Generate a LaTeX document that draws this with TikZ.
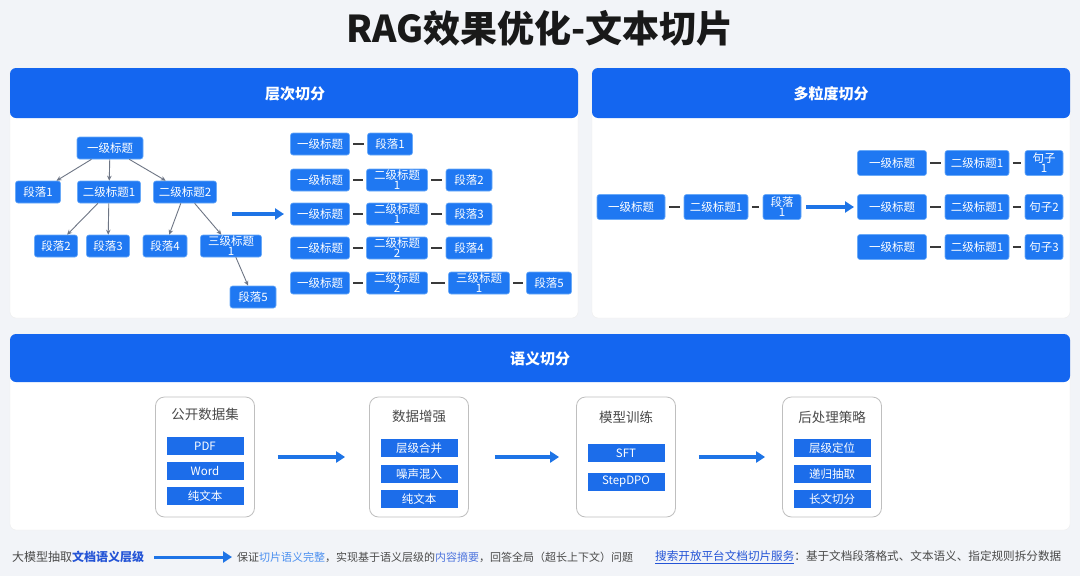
\documentclass[tikz,border=0pt]{standalone}
\usepackage{fontspec}
\setmainfont{Noto Sans CJK SC}
\usetikzlibrary{arrows.meta}

\definecolor{pagebg}{HTML}{F2F4F8}
\definecolor{headblue}{HTML}{1466F0}
\definecolor{nodeblue}{HTML}{1F78F2}
\definecolor{nodeedge}{HTML}{6AAAF8}
\definecolor{itemblue}{HTML}{1C6DEA}
\definecolor{linkgray}{HTML}{3A3A3A}
\definecolor{treegray}{HTML}{6E7685}
\definecolor{arrowblue}{HTML}{1E74E6}
\definecolor{txtgray}{HTML}{4A4A4A}
\definecolor{lightblue}{HTML}{4A8FF0}
\definecolor{deepblue}{HTML}{2454D6}

\tikzset{
  panel/.style={fill=white, draw=black!7, rounded corners=6pt},
  header/.style={fill=headblue, rounded corners=6pt},
  headtext/.style={text=white, font=\fontsize{15}{16}\selectfont\bfseries},
  chunk/.style={draw=nodeedge, fill=nodeblue, line width=0.6pt, rounded corners=2.5pt,
    text=white, minimum height=22pt, inner sep=1pt, align=center,
    font=\fontsize{11.5}{10}\selectfont},
  treearrow/.style={draw=treegray, line width=0.9pt, -{Stealth[length=5pt,width=4.5pt]}},
  joint/.style={draw=linkgray, line width=1.6pt, shorten >=3.5pt, shorten <=3.5pt},
  bigarrow/.style={draw=arrowblue, line width=3.5pt, -{Triangle[length=9pt,width=11pt]}},
  stage/.style={draw=black!25, fill=white, rounded corners=9pt, line width=0.8pt,
    minimum width=99pt, minimum height=120pt, inner sep=0pt},
  stagetitle/.style={text=txtgray, font=\fontsize{13.5}{14}\selectfont},
  item/.style={fill=itemblue, text=white, inner sep=0pt, minimum width=77pt,
    minimum height=18pt, font=\fontsize{11.5}{12}\selectfont},
}

\begin{document}
\begin{tikzpicture}[x=1pt, y=-1pt]

  % page and title
  \fill[pagebg] (0,0) rectangle (1080,576);
  \useasboundingbox (0,0) rectangle (1080,576);
  \node[text=black!90, font=\fontsize{37}{40}\selectfont\bfseries] (title) at (540,28) {RAG效果优化-文本切片};

  % the three panels
  \draw[panel] (10,68) rectangle (578,318);
  \fill[header] (10,68) rectangle (578,118);
  \node[headtext] (h1) at (295,94) {层次切分};

  \draw[panel] (592,68) rectangle (1070,318);
  \fill[header] (592,68) rectangle (1070,118);
  \node[headtext] (h2) at (831,94) {多粒度切分};

  \draw[panel] (10,334) rectangle (1070,530);
  \fill[header] (10,334) rectangle (1070,382);
  \node[headtext] (h3) at (540,359) {语义切分};

  % hierarchy: the tree
  \node[chunk, minimum width=66pt] (t0) at (110,148) {一级标题};
  \node[chunk, minimum width=45pt] (p1) at (38,192) {段落1};
  \node[chunk, minimum width=63pt] (t1) at (109,192) {二级标题1};
  \node[chunk, minimum width=63pt] (t2) at (185,192) {二级标题2};
  \node[chunk, minimum width=43pt] (p2) at (56,246) {段落2};
  \node[chunk, minimum width=43pt] (p3) at (108,246) {段落3};
  \node[chunk, minimum width=44pt] (p4) at (165,246) {段落4};
  \node[chunk, minimum width=61pt] (t3) at (231,246) {三级标题\\1};
  \node[chunk, minimum width=46pt] (p5) at (253,297) {段落5};

  \draw[treearrow] (t0) -- (p1);
  \draw[treearrow] (t0) -- (t1);
  \draw[treearrow] (t0) -- (t2);
  \draw[treearrow] (t1) -- (p2);
  \draw[treearrow] (t1) -- (p3);
  \draw[treearrow] (t2) -- (p4);
  \draw[treearrow] (t2) -- (t3);
  \draw[treearrow] (t3) -- (p5);

  \coordinate (f1s) at (232,214);
  \coordinate (f1e) at (284,214);
  \draw[bigarrow] (f1s) -- (f1e);

  % hierarchy: the chunks as paths
  \node[chunk, minimum width=59pt] (a1) at (320,144) {一级标题};
  \node[chunk, minimum width=45pt] (b1) at (390,144) {段落1};

  \node[chunk, minimum width=59pt] (a2) at (320,180) {一级标题};
  \node[chunk, minimum width=61pt] (c2) at (397,180) {二级标题\\1};
  \node[chunk, minimum width=46pt] (d2) at (469,180) {段落2};

  \node[chunk, minimum width=59pt] (a3) at (320,214) {一级标题};
  \node[chunk, minimum width=61pt] (c3) at (397,214) {二级标题\\1};
  \node[chunk, minimum width=46pt] (d3) at (469,214) {段落3};

  \node[chunk, minimum width=59pt] (a4) at (320,248) {一级标题};
  \node[chunk, minimum width=61pt] (c4) at (397,248) {二级标题\\2};
  \node[chunk, minimum width=46pt] (d4) at (469,248) {段落4};

  \node[chunk, minimum width=59pt] (a5) at (320,283) {一级标题};
  \node[chunk, minimum width=61pt] (c5) at (397,283) {二级标题\\2};
  \node[chunk, minimum width=61pt] (e5) at (479,283) {三级标题\\1};
  \node[chunk, minimum width=45pt] (d5) at (549,283) {段落5};

  \draw[joint] (a1) -- (b1);
  \draw[joint] (a2) -- (c2);
  \draw[joint] (c2) -- (d2);
  \draw[joint] (a3) -- (c3);
  \draw[joint] (c3) -- (d3);
  \draw[joint] (a4) -- (c4);
  \draw[joint] (c4) -- (d4);
  \draw[joint] (a5) -- (c5);
  \draw[joint] (c5) -- (e5);
  \draw[joint] (e5) -- (d5);

  % multi-granularity
  \node[chunk, minimum width=68pt, minimum height=25pt] (m0) at (631,207) {一级标题};
  \node[chunk, minimum width=64pt, minimum height=25pt] (m1) at (716,207) {二级标题1};
  \node[chunk, minimum width=38pt, minimum height=25pt] (m2) at (782,207) {段落\\1};
  \draw[joint] (m0) -- (m1);
  \draw[joint] (m1) -- (m2);

  \coordinate (f2s) at (806,207);
  \coordinate (f2e) at (854,207);
  \draw[bigarrow] (f2s) -- (f2e);

  \node[chunk, minimum width=69pt, minimum height=25pt] (n1a) at (892,163) {一级标题};
  \node[chunk, minimum width=64pt, minimum height=25pt] (n1b) at (977,163) {二级标题1};
  \node[chunk, minimum width=38pt, minimum height=25pt] (n1c) at (1044,163) {句子\\1};

  \node[chunk, minimum width=69pt, minimum height=25pt] (n2a) at (892,207) {一级标题};
  \node[chunk, minimum width=64pt, minimum height=25pt] (n2b) at (977,207) {二级标题1};
  \node[chunk, minimum width=38pt, minimum height=25pt] (n2c) at (1044,207) {句子2};

  \node[chunk, minimum width=69pt, minimum height=25pt] (n3a) at (892,247) {一级标题};
  \node[chunk, minimum width=64pt, minimum height=25pt] (n3b) at (977,247) {二级标题1};
  \node[chunk, minimum width=38pt, minimum height=25pt] (n3c) at (1044,247) {句子3};

  \draw[joint] (n1a) -- (n1b);
  \draw[joint] (n1b) -- (n1c);
  \draw[joint] (n2a) -- (n2b);
  \draw[joint] (n2b) -- (n2c);
  \draw[joint] (n3a) -- (n3b);
  \draw[joint] (n3b) -- (n3c);

  % semantic: four stages
  \node[stage] (s1) at (205,457) {};
  \node[stage] (s2) at (419,457) {};
  \node[stage] (s3) at (626,457) {};
  \node[stage] (s4) at (832,457) {};

  \node[stagetitle] (s1t) at (205,414) {公开数据集};
  \node[item] (s1a) at (205,446) {PDF};
  \node[item] (s1b) at (205,471) {Word};
  \node[item] (s1c) at (205,496) {纯文本};

  \node[stagetitle] (s2t) at (419,416) {数据增强};
  \node[item] (s2a) at (419,448) {层级合并};
  \node[item] (s2b) at (419,474) {噪声混入};
  \node[item] (s2c) at (419,499) {纯文本};

  \node[stagetitle] (s3t) at (626,417) {模型训练};
  \node[item] (s3a) at (626,453) {SFT};
  \node[item] (s3b) at (626,482) {StepDPO};

  \node[stagetitle] (s4t) at (832,417) {后处理策略};
  \node[item] (s4a) at (832,448) {层级定位};
  \node[item] (s4b) at (832,474) {递归抽取};
  \node[item] (s4c) at (832,499) {长文切分};

  \draw[bigarrow] ([xshift=23pt]s1.east) -- ([xshift=-24pt]s2.west);
  \draw[bigarrow] ([xshift=26pt]s2.east) -- ([xshift=-17pt]s3.west);
  \draw[bigarrow] ([xshift=23pt]s3.east) -- ([xshift=-17pt]s4.west);

  % notes at the bottom
  \node[anchor=west, text=txtgray, font=\fontsize{12}{12}\selectfont, inner sep=0pt] (lt) at (12,557)
    {大模型抽取\textcolor{deepblue}{\bfseries 文档语义层级}};
  \node[anchor=west, text=txtgray, font=\fontsize{11}{12}\selectfont, inner sep=0pt] (mt) at (237,557)
    {保证\textcolor{lightblue}{切片语义完整}，实现基于语义层级的\textcolor{deepblue!80}{内容摘要}，回答全局（超长上下文）问题};
  \draw[bigarrow, line width=3pt] ([xshift=10pt]lt.east) -- ([xshift=-5pt]mt.west);
  \node[anchor=west, text=txtgray, font=\fontsize{11.6}{12}\selectfont, inner sep=0pt] (rt) at (655,557)
    {\textcolor{deepblue}{\underline{搜索开放平台文档切片服务}}：基于文档段落格式、文本语义、指定规则拆分数据};

\end{tikzpicture}
\end{document}
